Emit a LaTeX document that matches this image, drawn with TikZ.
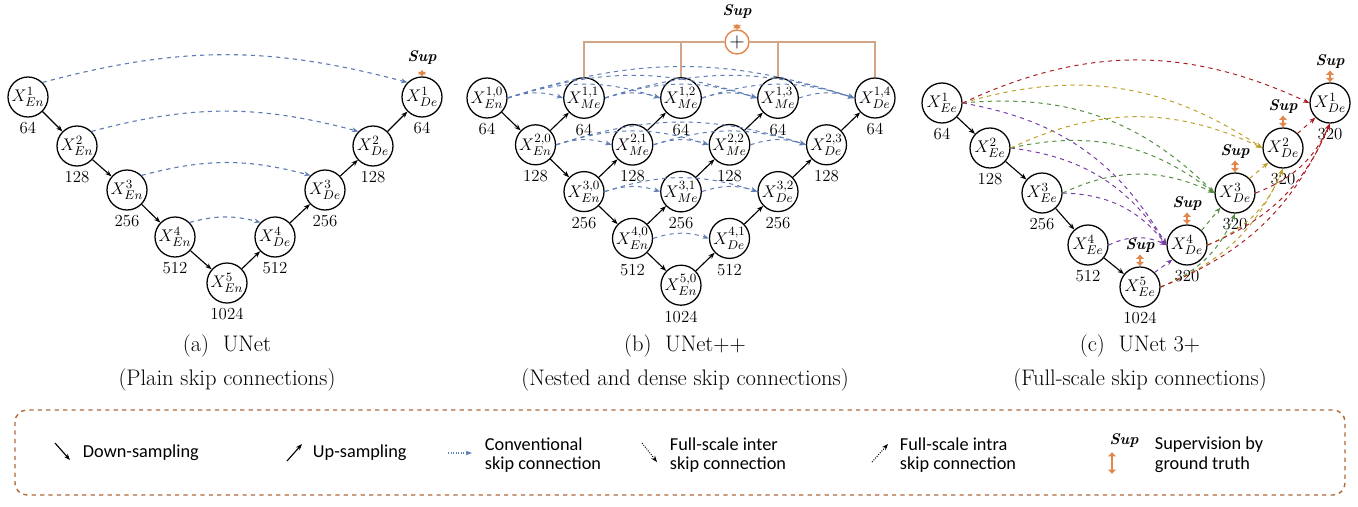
\documentclass[tikz,border=0pt]{standalone}
\usepackage{fontspec}
\newfontfamily\legendfont{Carlito}
\usetikzlibrary{arrows.meta}
\definecolor{skipblue}{RGB}{95,125,180}
\definecolor{suporange}{RGB}{225,135,75}
\definecolor{busbrown}{RGB}{210,165,135}
\definecolor{interpurple}{RGB}{120,60,165}
\definecolor{intergreen}{RGB}{85,140,65}
\definecolor{interyellow}{RGB}{190,160,40}
\definecolor{interred}{RGB}{170,30,35}
\definecolor{boxbrown}{RGB}{175,105,60}

\begin{document}
\begin{tikzpicture}[x=0.25mm,y=-0.25mm,>={Stealth[length=1.6mm]},
  main node/.style={circle,draw,line width=0.9pt,minimum size=10mm,inner sep=0pt,
    font=\fontsize{13}{13}\selectfont,label distance=0.2mm},
  num/.style={font=\fontsize{12}{12}\selectfont},
  sample/.style={->,line width=0.8pt},
  skip/.style={->,dashed,skipblue,line width=0.8pt},
  full skip/.style={->,dashed,line width=0.7pt},
  sup text/.style={font=\bfseries\itshape\fontsize{11}{11}\selectfont},
  sup arrow/.style={{Latex[length=1.1mm,width=2.2mm]}-{Latex[length=1.1mm,width=2.2mm]},suporange,line width=1.4pt},
  bus/.style={busbrown,line width=1.1pt},
  caption/.style={font=\fontsize{16}{16}\selectfont},
  legend/.style={font=\legendfont\fontsize{13}{14}\selectfont,anchor=west,align=left}]

  \useasboundingbox (0,0) rectangle (1358,506);

  % (a) UNet
  \foreach \i/\x/\y/\c in {1/28/97/64,2/77/146/128,3/127/190/256,4/175/237/512,5/227/283/1024}
    \node[main node,label={[num]below:\c}] (aE\i) at (\x,\y) {$X^{\i}_{En}$};
  \foreach \i/\x/\y/\c in {1/422/97/64,2/373/146/128,3/325/190/256,4/275/237/512}
    \node[main node,label={[num]below:\c}] (aD\i) at (\x,\y) {$X^{\i}_{De}$};
  \foreach \i/\j in {1/2,2/3,3/4,4/5}
    \draw[sample] (aE\i) -- (aE\j);
  \draw[sample] (aE5) -- (aD4);
  \foreach \i/\j in {4/3,3/2,2/1}
    \draw[sample] (aD\i) -- (aD\j);
  \foreach \i in {1,...,4}
    \draw[skip] (aE\i.north east) to[bend left=15] (aD\i.north west);
  \node[sup text] (asup) at (422,58) {Sup};
  \draw[sup arrow] (aD1.north) -- (asup.south);

  % (b) UNet++
  \foreach \i/\c in {1/64,2/128,3/256,4/512,5/1024}{
    \pgfmathtruncatemacro\jmax{5-\i}
    \foreach \j in {0,...,\jmax}{
      \ifnum\j=0 \def\sub{En}\else\ifnum\j=\jmax \def\sub{De}\else\def\sub{Me}\fi\fi
      \node[main node,label={[num]below:\c}] (b\i\j) at ({487+48.5*(\i-1)+97*\j},{98+46.8*(\i-1)}) {$X^{\i,\j}_{\sub}$};
    }
  }
  \foreach \i/\k in {1/2,2/3,3/4,4/5}
    \draw[sample] (b\i0) -- (b\k0);
  \foreach \i in {1,...,4}{
    \pgfmathtruncatemacro\jmax{4-\i}
    \foreach \j in {0,...,\jmax}{
      \pgfmathtruncatemacro\k{\i+1}
      \pgfmathtruncatemacro\l{\j+1}
      \draw[sample] (b\k\j) -- (b\i\l);
    }
  }
  \foreach \i in {1,...,4}{
    \pgfmathtruncatemacro\jmax{4-\i}
    \pgfmathtruncatemacro\kmax{5-\i}
    \foreach \j in {0,...,\jmax}{
      \pgfmathtruncatemacro\kmin{\j+1}
      \foreach \k in {\kmin,...,\kmax}
        \draw[skip,line width=0.7pt] (b\i\j.east) to[bend left=18] (b\i\k.west);
    }
  }
  \node[circle,draw=suporange,line width=1pt,minimum size=6mm,inner sep=0pt,
    font=\fontsize{15}{15}\selectfont] (plus) at (737,42) {$+$};
  \draw[bus] (b11.north) |- (plus.west);
  \draw[bus] (b14.north) |- (plus.east);
  \draw[bus] (b12.north) -- (b12.north |- plus.west);
  \draw[bus] (b13.north) -- (b13.north |- plus.east);
  \node[sup text] (bsup) at (737,12) {Sup};
  \draw[sup arrow] (plus.north) -- (bsup.south);

  % (c) UNet 3+
  \foreach \i/\x/\y/\c in {1/942/103/64,2/990/148/128,3/1042/193/256,4/1088/245/512}
    \node[main node,label={[num]below:\c}] (cE\i) at (\x,\y) {$X^{\i}_{Ee}$};
  \node[main node,label={[num]below:1024},alias=cD5] (cE5) at (1140,287) {$X^{5}_{Ee}$};
  \foreach \i/\x/\y in {1/1330/103,2/1283/148,3/1235/193,4/1187/245}
    \node[main node,label={[num]below:320}] (cD\i) at (\x,\y) {$X^{\i}_{De}$};
  \foreach \i/\j in {1/2,2/3,3/4,4/5}
    \draw[sample] (cE\i) -- (cE\j);
  \foreach \t/\col in {4/interpurple,3/intergreen,2/interyellow,1/interred}{
    \foreach \s in {1,...,\t}
      \draw[full skip,\col] (cE\s.east) to[bend left=25] (cD\t.west);
    \pgfmathtruncatemacro\smin{\t+1}
    \foreach \s in {\smin,...,5}{
      \ifnum\s=\smin
        \draw[full skip,\col] (cD\s.north east) -- (cD\t.south west);
      \else
        \draw[full skip,\col] (cD\s.east) to[bend right=22] (cD\t.south);
      \fi
    }
  }
  \foreach \n in {cD1,cD2,cD3,cD4,cE5}{
    \node[sup text,anchor=south,inner sep=1pt] (\n sup) at ([yshift=3mm]\n.north) {Sup};
    \draw[sup arrow] (\n.north) -- (\n sup.south);
  }

  % captions
  \foreach \x/\t/\s in {227/(a)~~UNet/(Plain skip connections),
                         685/(b)~~UNet++/(Nested and dense skip connections),
                         1140/(c)~~UNet 3+/(Full-scale skip connections)}{
    \node[caption] (cap\x) at (\x,346) {\t};
    \node[caption] (sub\x) at (\x,380) {\s};
  }

  % legend
  \draw[boxbrown,dashed,rounded corners=3mm,line width=1pt] (15,410) rectangle (1345,495);
  \draw[sample] (55,443) -- (70,460);
  \node[legend] (ldown) at (78,453) {Down-sampling};
  \draw[sample] (287,461) -- (302,444);
  \node[legend] (lup) at (308,453) {Up-sampling};
  \draw[skip,densely dotted,line width=1pt] (448,453) -- (472,453);
  \node[legend] (lconv) at (480,455) {Conventional\\skip connection};
  \draw[full skip,densely dotted] (642,443) -- (657,462);
  \node[legend] (linter) at (665,455) {Full-scale inter\\skip connection};
  \draw[full skip,densely dotted] (872,462) -- (888,444);
  \node[legend] (lintra) at (895,455) {Full-scale intra\\skip connection};
  \node[sup text] (lsup) at (1124,441) {Sup};
  \draw[sup arrow] (1112,452) -- (1112,474);
  \node[legend] (lgt) at (1150,455) {Supervision by\\ground truth};
\end{tikzpicture}
\end{document}
